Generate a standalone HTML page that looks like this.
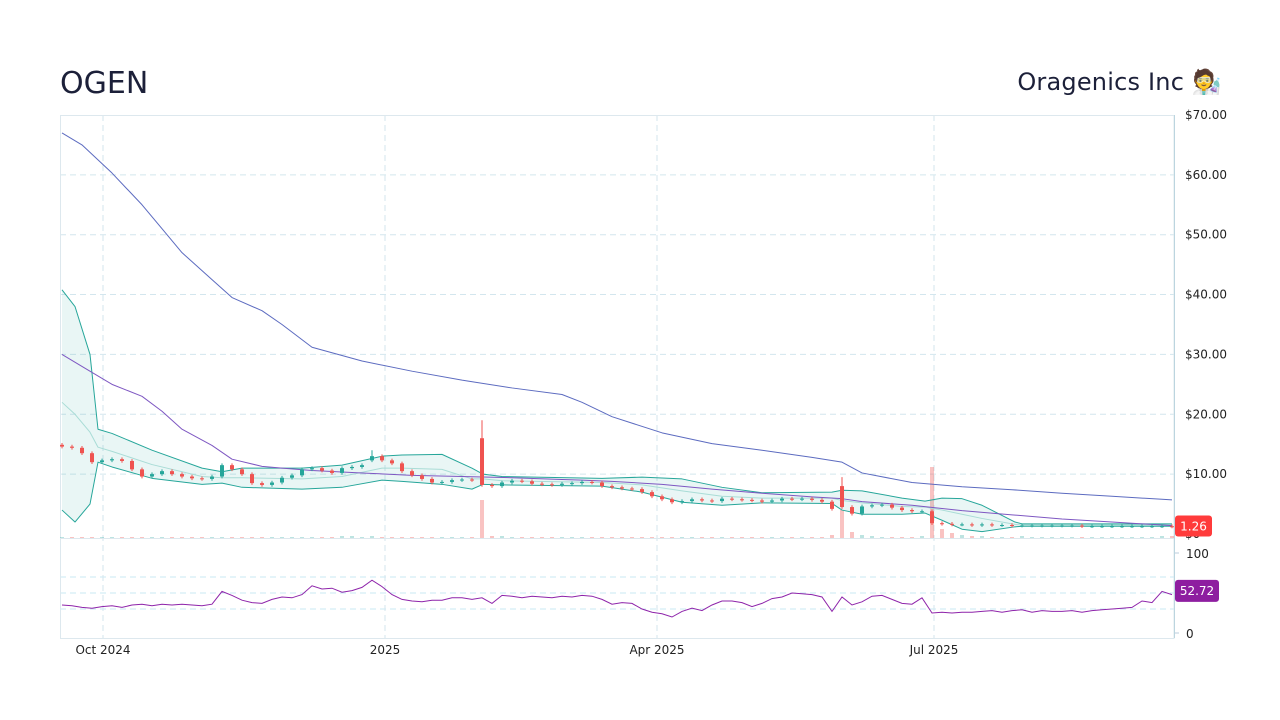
<!DOCTYPE html>
<html><head><meta charset="utf-8"><style>
body{margin:0;background:#fff;width:1280px;height:720px;overflow:hidden;font-family:"DejaVu Sans","Liberation Sans",sans-serif}
#t{position:absolute;left:60px;top:66px;font-size:30px;color:#1c2039}
#n{position:absolute;right:58px;top:68px;font-size:24px;color:#1c2039;letter-spacing:0.2px}
svg{position:absolute;left:0;top:0}
</style></head><body>
<div id="t">OGEN</div>
<div id="n">Oragenics Inc 🧑‍🔬</div>
<svg id="c" width="1280" height="720"></svg>
<script>
const closes=[14.6,14.4,13.5,12,12.3,12.5,12.2,10.8,9.6,10,10.5,10,9.6,9.3,9.2,9.6,11.5,10.8,10,8.5,8.2,8.6,9.4,9.8,10.8,11,10.6,10.2,11,11.2,11.5,13,12.3,11.8,10.5,9.8,9.2,8.6,8.7,9,9.1,9,8.2,8,8.6,8.9,8.8,8.4,8.3,8.2,8.4,8.5,8.7,8.6,8,7.8,7.6,7.5,7,6.3,5.8,5.3,5.5,5.8,5.6,5.5,5.9,5.8,5.7,5.6,5.4,5.6,5.9,5.8,5.9,5.7,5.4,4.2,4.5,3.4,4.6,4.8,4.9,4.4,4,3.8,3.8,1.8,1.7,1.6,1.6,1.5,1.6,1.5,1.5,1.4,1.4,1.4,1.4,1.4,1.4,1.4,1.3,1.3,1.3,1.3,1.3,1.3,1.3,1.3,1.3,1.26];
const spikeIdx=[31,42,78];
const spikeHigh=[14,19,9.5];
const spikeOpen=[12.3,16,8];
const volumes=[1,1,1,1,1,1,1,1,1,1,1,1,1,1,1,1,1,1,1,1,1,1,1,1,1,1,1,1,2,2,1,2,1,1,1,1,1,1,1,1,1,1,38,2,2,1,1,1,1,1,1,1,1,1,1,1,1,1,1,1,1,1,1,1,1,1,1,1,1,1,1,1,1,1,1,1,1,3,28,6,3,2,1,1,1,1,2,71,9,5,3,2,2,1,1,1,2,1,1,1,1,1,1,1,1,1,1,1,1,1,2,2];
const rsi=[35,34,32,31,33,34,32,35,36,34,36,35,36,35,34,36,52,47,41,38,37,42,45,44,48,59,55,56,51,53,57,66,58,48,42,40,39,41,41,44,44,42,44,37,47,46,44,46,45,44,46,45,47,46,42,36,38,37,30,26,24,20,27,31,28,35,40,40,38,33,37,43,45,50,49,48,45,27,45,35,39,46,47,42,37,36,44,25,26,25,26,26,27,28,26,28,29,26,28,27,27,28,26,28,29,30,31,32,40,38,52,48];
const smaIdx=[0,2,5,8,10,12,15,17,20,22,25,30,35,40,45,50,52,55,60,65,70,75,78,80,85,90,95,100,105,110,111];
const sma200=[67,65,60.3,55,51,47,42.5,39.5,37.3,35,31.2,28.9,27.2,25.7,24.4,23.3,22,19.6,16.9,15.1,14.0,12.8,12,10.2,8.6,7.9,7.4,6.8,6.3,5.8,5.7];
const sma50=[30,28,25,23,20.5,17.5,14.8,12.5,11.3,11,10.6,10.2,9.8,9.6,9.4,9.1,9,8.8,8.3,7.5,6.8,6.2,5.9,5.4,4.8,3.9,3.2,2.5,2,1.5,1.4];
const bbIdx=[0,1.3,2.8,3.6,5,9,14,16,18,24,28,32,34,38,41,42.1,44,54,58,62,66,70,77,78,80,84,86.3,88,90,92,95.3,96,100,111];
const bbUpper=[40.8,38,30,17.5,16.8,14,11,10.4,11,11,11.5,13,13.2,13.3,11,10,9.6,9.3,9.5,9.2,7.8,6.9,7,7.3,7.2,6,5.5,6,5.9,4.8,2,1.7,1.7,1.7];
const bbLower=[4,2,5,12,11.2,9.3,8.3,8.5,7.8,7.5,7.8,9,8.8,8.3,7.5,8.3,8.2,8,7,5.3,4.8,5.2,5.1,4,3.3,3.3,3.5,2.3,0.8,0.4,1.2,1.3,1.3,1.3];
const bbMid=[22,20,17,14.5,13.8,11.6,9.6,9.4,9.4,9.2,9.6,11,11,10.8,9.2,9.2,8.9,8.6,8.2,7.2,6.3,6,6,5.6,5.2,4.6,4.5,4,3.3,2.6,1.6,1.5,1.5,1.5];
const priceTicks=[0,10,20,30,40,50,60,70];
const priceTickLabels=["$0","$10.00","$20.00","$30.00","$40.00","$50.00","$60.00","$70.00"];
const dateTickIdx=[4.1,32.3,59.5,87.2];
const dateTickLabels=["Oct 2024","2025","Apr 2025","Jul 2025"];
const rsiTicks=[0,100];
const rsiGrid=[30,50,70];

const NS="http://www.w3.org/2000/svg",svg=document.getElementById('c');
const X=i=>62+i*10;
const Y=p=>534-p*5.986;
const R=v=>633-v*0.8;
function mk(t,a){const e=document.createElementNS(NS,t);for(const k in a)e.setAttribute(k,a[k]);svg.appendChild(e);return e;}
priceTicks.forEach((p,k)=>{
 if(p>0&&p<70){const g=mk('line',{x1:60,x2:1174,y1:Y(p),y2:Y(p),stroke:'#d3e6ee','stroke-dasharray':'6 4'});
 
 }
 const t=mk('text',{x:1185,y:Y(p)+4,'font-size':12,fill:'#222'});t.textContent=priceTickLabels[k];
 
 
});
rsiGrid.forEach(v=>{const g=mk('line',{x1:60,x2:1174,y1:R(v),y2:R(v),stroke:'#c9e9f3','stroke-dasharray':'6 4'});
 
 });
rsiTicks.forEach(v=>{const t=mk('text',{x:1186,y:R(v)+5,'font-size':12,fill:'#222'});t.textContent=String(v);
 
 
 mk('line',{x1:1174,x2:1179,y1:R(v),y2:R(v),stroke:'#bcd'});});
dateTickIdx.forEach((d,k)=>{const g=mk('line',{x1:X(d),x2:X(d),y1:115,y2:638,stroke:'#d3e6ee','stroke-dasharray':'6 4'});
 
 
 const t=mk('text',{x:X(d),y:654,'font-size':12,fill:'#222','text-anchor':'middle'});t.textContent=dateTickLabels[k];
 
 });
mk('rect',{x:60.5,y:115.5,width:1113.5,height:523,fill:'none',stroke:'#dde8ee'});
mk('line',{x1:1174.5,x2:1174.5,y1:115,y2:638,stroke:'#bcd5df'});
mk('line',{x1:60,x2:1174,y1:538.5,y2:538.5,stroke:'#dde8ee'});
const vmax=Math.max(...volumes);
volumes.forEach((v,i)=>{const h=v/vmax*71;const s=spikeIdx.indexOf(i);const o=s>=0?spikeOpen[s]:(i==0?closes[i]:closes[i-1]);const up=closes[i]>=o;
 const b=mk('rect',{x:X(i)-2,y:538-h,width:4,height:h,fill:up?'rgba(38,166,154,0.3)':'rgba(239,83,80,0.35)'});
 
 });
let band='M'+bbIdx.map((d,k)=>X(d)+','+Y(bbUpper[k])).join('L');
for(let k=bbIdx.length-1;k>=0;k--)band+='L'+X(bbIdx[k])+','+Y(bbLower[k]);
const bf=mk('path',{d:band+'Z',fill:'rgba(38,166,154,0.1)',stroke:'none'});


function line(idx,vals,col,w,name){const p=mk('polyline',{points:idx.map((d,k)=>X(d)+','+Y(vals[k])).join(' '),fill:'none',stroke:col,'stroke-width':w,'stroke-linejoin':'round'});
 
 }
line(bbIdx,bbMid,'#a9dcd6',1,'bollinger-middle');
line(bbIdx,bbUpper,'#26a69a',1,'bollinger-upper');
line(bbIdx,bbLower,'#26a69a',1,'bollinger-lower');
line(smaIdx,sma200,'#5c6bc0',1,'sma-200-line');
line(smaIdx,sma50,'#7e57c2',1,'sma-50-line');
closes.forEach((c,i)=>{const s=spikeIdx.indexOf(i);const o=s>=0?spikeOpen[s]:(i==0?c+0.3:closes[i-1]);const up=c>=o;const col=up?'#26a69a':'#ef5350';
 let hi=Math.max(o,c)+0.3,lo=Math.min(o,c)-0.3;if(s>=0)hi=spikeHigh[s];
 const w=mk('line',{x1:X(i),x2:X(i),y1:Y(hi),y2:Y(lo),stroke:col});
 
 
 const top=Y(Math.max(o,c)),h=Math.max(1,Y(Math.min(o,c))-top);
 const b=mk('rect',{x:X(i)-2,y:top,width:4,height:h,fill:col});
 
 });
const rl=mk('polyline',{points:rsi.map((v,i)=>X(i)+','+R(v)).join(' '),fill:'none',stroke:'#8e24aa','stroke-width':1});


const last=closes[closes.length-1];
const pl=mk('rect',{x:1175,y:Y(last)-11,width:37,height:21,rx:3,fill:'#ff3b3b'});


const pt=mk('text',{x:1193.5,y:Y(last)+4,'font-size':12,fill:'#fff','text-anchor':'middle'});pt.textContent=last.toFixed(2);
const rv=52.72;
const rlb=mk('rect',{x:1175,y:R(rv)-11,width:44,height:22,rx:3,fill:'#8e1ea0'});


const rt=mk('text',{x:1197,y:R(rv)+4,'font-size':12,fill:'#fff','text-anchor':'middle'});rt.textContent=rv.toFixed(2);
</script>
</body></html>
